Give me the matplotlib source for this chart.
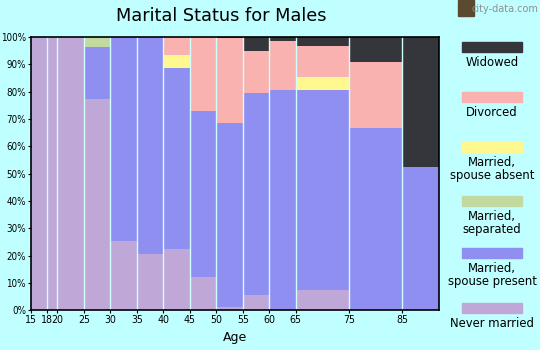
import matplotlib
matplotlib.use('Agg')
import matplotlib.pyplot as plt
from matplotlib.patches import Rectangle
import numpy as np

# age bins (left edges) and widths
bin_edges = [15, 18, 20, 25, 30, 35, 40, 45, 50, 55, 60, 65, 75, 85, 92]
tick_ages = [15, 18, 20, 25, 30, 35, 40, 45, 50, 55, 60, 65, 75, 85]

# shares in percent per age bin
never_married   = [100, 100, 100, 77.3, 25.4, 20.5, 22.3, 12.1, 1.1, 5.5, 0.0, 7.3, 0.0, 0.0]
spouse_present  = [0, 0, 0, 19.1, 74.6, 79.5, 66.3, 60.8, 67.3, 74.0, 80.6, 73.3, 66.8, 52.3]
separated       = [0, 0, 0, 3.6, 0, 0, 0, 0, 0, 0, 0, 0, 0, 0]
spouse_absent   = [0, 0, 0, 0, 0, 0, 4.8, 0, 0, 0, 0, 4.8, 0, 0]
divorced        = [0, 0, 0, 0, 0, 0, 6.6, 27.1, 31.1, 15.4, 18.0, 11.3, 24.1, 0.0]
widowed         = [0, 0, 0, 0, 0, 0, 0, 0, 0.5, 5.1, 1.4, 3.3, 9.1, 47.7]

series = [
    ('Never married', never_married, '#bfa8d8'),
    ('Married,\nspouse present', spouse_present, '#8f8ff2'),
    ('Married,\nseparated', separated, '#c2daa0'),
    ('Married,\nspouse absent', spouse_absent, '#fff88f'),
    ('Divorced', divorced, '#f9b2b0'),
    ('Widowed', widowed, '#35363b'),
]

bg = '#c0ffff'
narrow = ['Liberation Sans Narrow', 'DejaVu Sans']

fig = plt.figure(figsize=(5.4, 3.5), dpi=100, facecolor=bg)
ax = fig.add_axes([0.057, 0.114, 0.756, 0.78])
ax.set_facecolor(bg)

lefts = np.array(bin_edges[:-1])
widths = np.diff(bin_edges)
bottom = np.zeros(len(lefts))
for name, vals, col in series:
    vals = np.array(vals, dtype=float)
    ax.bar(lefts, vals, width=widths, bottom=bottom, align='edge', color=col, linewidth=0)
    bottom += vals

# light separators between the age groups
for x in bin_edges[1:-1]:
    ax.axvline(x, color='#d0ffff', lw=1.0)

ax.set_xlim(15, 92)
ax.set_ylim(0, 100)
ax.set_xticks(tick_ages)
ax.set_xticklabels([str(a) for a in tick_ages], family=narrow, fontsize=7.6, stretch='condensed')
ax.set_yticks(range(0, 101, 10))
ax.set_yticklabels(['%d%%' % v for v in range(0, 101, 10)], family=narrow, fontsize=7,
                   stretch='condensed')
ax.tick_params(length=2.5, width=0.8, pad=1)
for s in ax.spines.values():
    s.set_linewidth(1.2)
    s.set_color('black')
ax.set_xlabel('Age', fontsize=9, labelpad=4)

fig.text(0.41, 0.955, 'Marital Status for Males', ha='center', va='center', fontsize=12.8)
fig.text(0.997, 0.975, 'city-data.com', ha='right', va='center', fontsize=7, color='#909090')
fig.patches.append(Rectangle((0.848, 0.955), 0.03, 0.045, transform=fig.transFigure,
                             color='#5a4a30', zorder=3))

# legend at the right, patch above each label
leg_y = [47, 97, 147, 201, 253, 308]
for (name, vals, col), py in zip(series[::-1], leg_y):
    fig.patches.append(Rectangle((462 / 540, 1 - (py + 5) / 350), 60 / 540, 10 / 350,
                                 transform=fig.transFigure, color=col))
    fig.text(492 / 540, 1 - (py + 9) / 350, name, ha='center', va='top',
             fontsize=8.4, linespacing=1.05)

fig.savefig('out.png', dpi=100, facecolor=bg)
